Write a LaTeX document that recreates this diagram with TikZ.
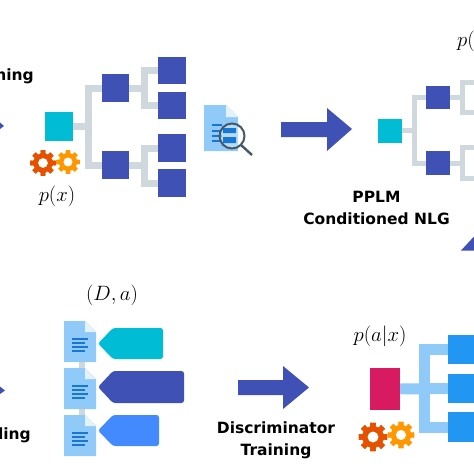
\documentclass[tikz,border=0pt]{standalone}
\usepackage{fontspec}
\setsansfont{DejaVu Sans}
\definecolor{blk}{HTML}{3F51B5}
\definecolor{cyn}{HTML}{00BCD4}
\definecolor{gry}{HTML}{CFD8DC}
\definecolor{lbl}{HTML}{90CAF9}
\definecolor{mbl}{HTML}{2196F3}
\definecolor{dbl}{HTML}{1976D2}
\definecolor{pal}{HTML}{E3F2FD}
\definecolor{brt}{HTML}{448AFF}
\definecolor{pnk}{HTML}{D81B60}
\definecolor{org}{HTML}{E65100}
\definecolor{yel}{HTML}{FF9800}
\definecolor{lens}{HTML}{455A64}
\tikzset{
 lab/.style={font=\sffamily\bfseries\fontsize{15.5}{22}\selectfont,text=black,inner sep=0pt,align=center},
 mth/.style={font=\fontsize{19.5}{22}\selectfont,text=black,inner sep=0pt},
 boxn/.style={draw=none,inner sep=0pt,minimum width=#1,minimum height=#1},
 lnA/.style={draw=gry,line width=7pt},
 lnB/.style={draw=gry,line width=5pt},
 lnC/.style={draw=lbl,line width=11pt},
 tagshape/.style={rounded corners=2.5pt},
}
\newcommand{\gearicon}[4]{%
 \fill[#4,even odd rule,shift={(#1,#2)},rounded corners=0.6pt]
 (-14:{#3*.78}) \foreach \a in {0,45,...,315}{ -- (\a-12:{#3*1.05}) -- (\a+12:{#3*1.05}) -- (\a+14:{#3*.78}) -- (\a+31:{#3*.78}) } -- cycle
 (0,0) circle ({#3*.4});}
\newcommand{\docicon}[2]{%
 \begin{scope}[shift={(#1,#2)}]
 \fill[lbl] (0,0)--(21,0)--(32,11)--(32,41)--(0,41)--cycle;
 \fill[pal] (21,0)--(32,11)--(21,11)--cycle;
 \draw[dbl,line width=1.2pt] (8,18)--(24,18) (8,22)--(21,22) (8,26)--(24,26) (8,30)--(21,30);
 \end{scope}}
\newcommand{\bigarrow}[8]{%
 \fill[blk] (#1,#2)--(#3,#2)--(#3,#4)--(#5,#6)--(#3,#7)--(#3,#8)--(#1,#8)--cycle;}
\begin{document}
\begin{tikzpicture}[x=1pt,y=-1pt]
\useasboundingbox (0,0) rectangle (474,474);
\fill[white] (0,0) rectangle (474,474);
\clip (0,0) rectangle (474,474);
% cut-off arrows at the edges
\fill[blk] (0,122.5)--(4,126)--(0,129)--cycle;
\fill[blk] (0,386.5)--(5,390.5)--(0,394)--cycle;
\fill[blk] (461,250.5)--(474,236.5)--(474,250.5)--cycle;
% cut-off words
\node[lab,anchor=east] (t1) at (34,76.5) {ning};
\node[lab,anchor=east] (t2) at (31,435) {ding};
% top-left tree
\node[boxn=28.5pt,fill=cyn] (r1) at (59,126.5) {};
\node[boxn=27.5pt,fill=blk] (a1) at (115.5,88) {};
\node[boxn=27.5pt,fill=blk] (a2) at (115.5,165) {};
\node[boxn=27.5pt,fill=blk] (b1) at (172,70.5) {};
\node[boxn=27.5pt,fill=blk] (b2) at (172,105.5) {};
\node[boxn=27.5pt,fill=blk] (b3) at (172,148) {};
\node[boxn=27.5pt,fill=blk] (b4) at (172,183) {};
\coordinate (busA) at (88,126.5);
\coordinate (busB) at (144,88);
\coordinate (busC) at (144,165);
\draw[lnA] (r1.east) -- (busA);
\draw[lnA] (a1.west) -| (busA) |- (a2.west);
\draw[lnA] (a1.east) -- (busB);
\draw[lnA] (b1.west) -| (busB) |- (b2.west);
\draw[lnA] (a2.east) -- (busC);
\draw[lnA] (b3.west) -| (busC) |- (b4.west);
\gearicon{43}{163}{12.5}{org}
\gearicon{68}{162}{11.5}{yel}
\node[mth] (px) at (57,196) {$p(x)$};
% document with magnifier
\begin{scope}[shift={(204,105)}]
 \fill[lbl] (0,0)--(22,0)--(34,12)--(34,46)--(0,46)--cycle;
 \fill[pal] (22,0)--(34,12)--(22,12)--cycle;
 \draw[dbl,line width=1.4pt] (8,20)--(18,20) (8,26)--(18,26) (8,31)--(18,31) (8,36)--(18,36);
 \fill[white,opacity=.35] (28,31) circle (12.5);
 \fill[dbl] (19,23) rectangle (32,28) (19,32) rectangle (32,38);
 \draw[lens,line width=2pt] (28,31) circle (12.5);
 \draw[lens,line width=2.4pt] (37,40)--(48,50);
\end{scope}
% arrows
\bigarrow{281}{122}{327}{108}{352}{129}{151}{137}
\bigarrow{238}{380}{283}{366}{309}{387.5}{409}{395}
% top-right tree
\node[boxn=24pt,fill=cyn] (r2) at (390,130.5) {};
\node[boxn=23.5pt,fill=blk] (c1) at (438,97.5) {};
\node[boxn=23.5pt,fill=blk] (c2) at (438,163) {};
\coordinate (busD) at (414,130.5);
\coordinate (busE) at (462,97.5);
\coordinate (busF) at (462,163);
\coordinate (d1) at (480,82.5);
\coordinate (d2) at (480,112.5);
\coordinate (d3) at (480,147.5);
\coordinate (d4) at (480,178.5);
\draw[lnB] (r2.east) -- (busD);
\draw[lnB] (c1.west) -| (busD) |- (c2.west);
\draw[lnB] (c1.east) -- (busE);
\draw[lnB] (d1) -| (busE) |- (d2);
\draw[lnB] (c2.east) -- (busF);
\draw[lnB] (d3) -| (busF) |- (d4);
\node[mth,anchor=west] (pt) at (457,41) {$p(a|x)$};
\node[lab] (t3) at (376.5,208) {PPLM\\Conditioned NLG};
% documents and tags
\node[mth] (da) at (112,295) {$(D,a)$};
\fill[gry] (79,360) rectangle (85,417);
\docicon{64}{321}
\docicon{64}{368}
\docicon{64}{415}
\fill[cyn,tagshape] (98,343.5)--(113,328)--(163,328)--(163,359)--(113,359)--cycle;
\fill[blk,tagshape] (98,387)--(113,371)--(184,371)--(184,403)--(113,403)--cycle;
\fill[brt,tagshape] (98,430.5)--(113,415)--(159,415)--(159,446)--(113,446)--cycle;
\node[lab] (t4) at (276,440) {Discriminator\\Training};
% bottom-right tree
\node[draw=none,inner sep=0pt,minimum width=30pt,minimum height=42pt,fill=pnk] (r3) at (385,389) {};
\node[inner sep=0pt,minimum width=40pt,minimum height=29.5pt,fill=mbl] (e1) at (468,349.5) {};
\node[inner sep=0pt,minimum width=40pt,minimum height=29.5pt,fill=mbl] (e2) at (468,388.5) {};
\node[inner sep=0pt,minimum width=40pt,minimum height=29.5pt,fill=mbl] (e3) at (468,427) {};
\coordinate (busG) at (424,389);
\draw[lnC] (r3.east) -- (e2.west);
\draw[lnC] (e1.west) -| (busG) |- (e3.west);
\gearicon{373}{437}{14}{org}
\gearicon{401}{435}{13}{yel}
\node[mth] (pax) at (380,336) {$p(a|x)$};
\end{tikzpicture}
\end{document}
